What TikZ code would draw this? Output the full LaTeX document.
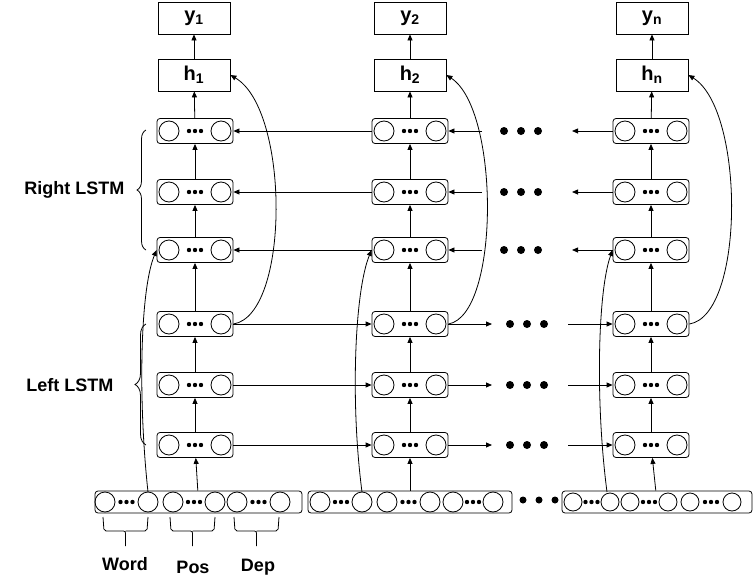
\documentclass[tikz,border=0pt]{standalone}
\usepackage{fontspec}
\setmainfont{Liberation Sans}
\usetikzlibrary{decorations.pathreplacing,arrows.meta}
\newcommand\grp[4][10]{\draw (#2,#4) circle (#1); \draw (#3,#4) circle (#1);
  \fill ({(#2+#3)/2-6},#4) circle (2.2) ({(#2+#3)/2},#4) circle (2.2) ({(#2+#3)/2+6},#4) circle (2.2);}
\newcommand\lcell[3]{\node[cell] (#1) at (#2,#3) {}; \grp{#2-26}{#2+26}{#3}}
\newcommand\ubr[2]{\draw[rounded corners=2] (#1,517) -- (#1+1,531) -- ({(#1+#2)/2},531) -- ({(#1+#2)/2},546) ({(#1+#2)/2},531) -- (#2-1,531) -- (#2,517);}
\begin{document}
\begin{tikzpicture}[x=1pt,y=-1pt,
  cell/.style={draw,rounded corners=3,minimum width=76pt,minimum height=25pt,inner sep=0},
  box/.style={draw,minimum width=72pt,minimum height=32pt,inner sep=0,font=\fontsize{20}{22}\selectfont\bfseries},
  bar/.style={draw,rounded corners=3},
  arr/.style={-{Triangle[length=6pt,width=5pt]},thick},
  bdot/.style={fill,circle,inner sep=0,minimum size=8pt},
  lbl/.style={font=\fontsize{18}{20}\selectfont\bfseries},
  every path/.style={line width=0.8pt}]
\useasboundingbox (0,0) rectangle (756,581);
% columns
\foreach \n/\x in {a/195,b/410,c/651}{
  \lcell{R1\n}{\x}{131}\lcell{R2\n}{\x}{192}\lcell{R3\n}{\x}{250}
  \lcell{L1\n}{\x}{324}\lcell{L2\n}{\x}{385}\lcell{L3\n}{\x}{445}
}
\node[box] (ha) at (194,75) {h\textsubscript{1}};
\node[box] (hb) at (410,75) {h\textsubscript{2}};
\node[box] (hc) at (652,75) {h\textsubscript{n}};
\node[box] (ya) at (194,18) {y\textsubscript{1}};
\node[box] (yb) at (410,18) {y\textsubscript{2}};
\node[box] (yc) at (652,18) {y\textsubscript{n}};
% input bars
\node[bar,minimum width=207pt,minimum height=22pt,inner sep=0] (xa) at (198.5,502) {};
\node[bar,minimum width=204pt,minimum height=22pt,inner sep=0] (xb) at (410,502) {};
\node[bar,minimum width=190pt,minimum height=22pt,inner sep=0] (xc) at (657,502) {};
\grp{105}{148}{502}\grp{173}{215}{502}\grp{237}{280}{502}
\grp{320}{362}{502}\grp{387}{430}{502}\grp{453}{493}{502}
\grp[9]{573}{610}{502}\grp[9]{630}{668}{502}\grp[9]{690}{732}{502}
\foreach \x in {523,539,555}\node[bdot,minimum size=7pt] (d\x) at (\x,500) {};
% vertical arrows
\foreach \n in {a,b,c}{
  \draw[arr] (x\n) -- (L3\n); \draw[arr] (L3\n) -- (L2\n); \draw[arr] (L2\n) -- (L1\n);
  \draw[arr] (L1\n) -- (R3\n); \draw[arr] (R3\n) -- (R2\n); \draw[arr] (R2\n) -- (R1\n);
  \draw[arr] (R1\n) -- (h\n); \draw[arr] (h\n) -- (y\n);
}
% horizontal
\foreach \r/\y in {R1/131,R2/192,R3/250}{
  \draw[arr] (\r b) -- (\r a);
  \coordinate (\r s) at (482,\y); \coordinate (\r t) at (572,\y);
  \draw[arr] (\r s) -- (\r b.east); \draw[arr] (\r c.west) -- (\r t);
  \foreach \d in {-17,0,17}\node[bdot] at (521+\d,\y) {};
}
\foreach \r/\y in {L1/324,L2/385,L3/445}{
  \draw[arr] (\r a) -- (\r b);
  \coordinate (\r s) at (492,\y); \coordinate (\r t) at (568,\y);
  \draw[arr] (\r b.east) -- (\r s); \draw[arr] (\r t) -- (\r c.west);
  \foreach \d in {-17,0,17}\node[bdot] at (527+\d,\y) {};
}
% curves from input to right LSTM
\coordinate (ia) at (148,492); \coordinate (ib) at (362,492); \coordinate (ic) at (607,492);
\draw[arr] (ia) .. controls (138,400) and (140,290) .. (R3a.west);
\draw[arr] (ib) .. controls (350,400) and (355,290) .. (R3b.west);
\draw[arr] (ic) .. controls (595,400) and (598,290) .. (R3c.west);
% curves from left LSTM to h
\draw[arr] (L1a.east) .. controls (290,315) and (290,110) .. (ha.east);
\draw[arr] (L1b.east) .. controls (500,315) and (500,110) .. (hb.east);
\draw[arr] (L1c.east) .. controls (745,315) and (745,110) .. (hc.east);
% braces
\draw[decorate,decoration={brace,amplitude=9pt}] (146,250) -- (146,130);
\node[lbl,anchor=east] (rl) at (128,190) {Right LSTM};
\draw[decorate,decoration={brace,amplitude=11pt}] (146,445) -- (146,324);
\node[lbl,anchor=east] (ll) at (117,385) {Left LSTM};
\ubr{103}{148}\ubr{170}{215}\ubr{234}{279}
\node[lbl] (w) at (125,564) {Word};
\node[lbl] (p) at (193,567) {Pos};
\node[lbl] (dp) at (258,567) {Dep};
\end{tikzpicture}
\end{document}
